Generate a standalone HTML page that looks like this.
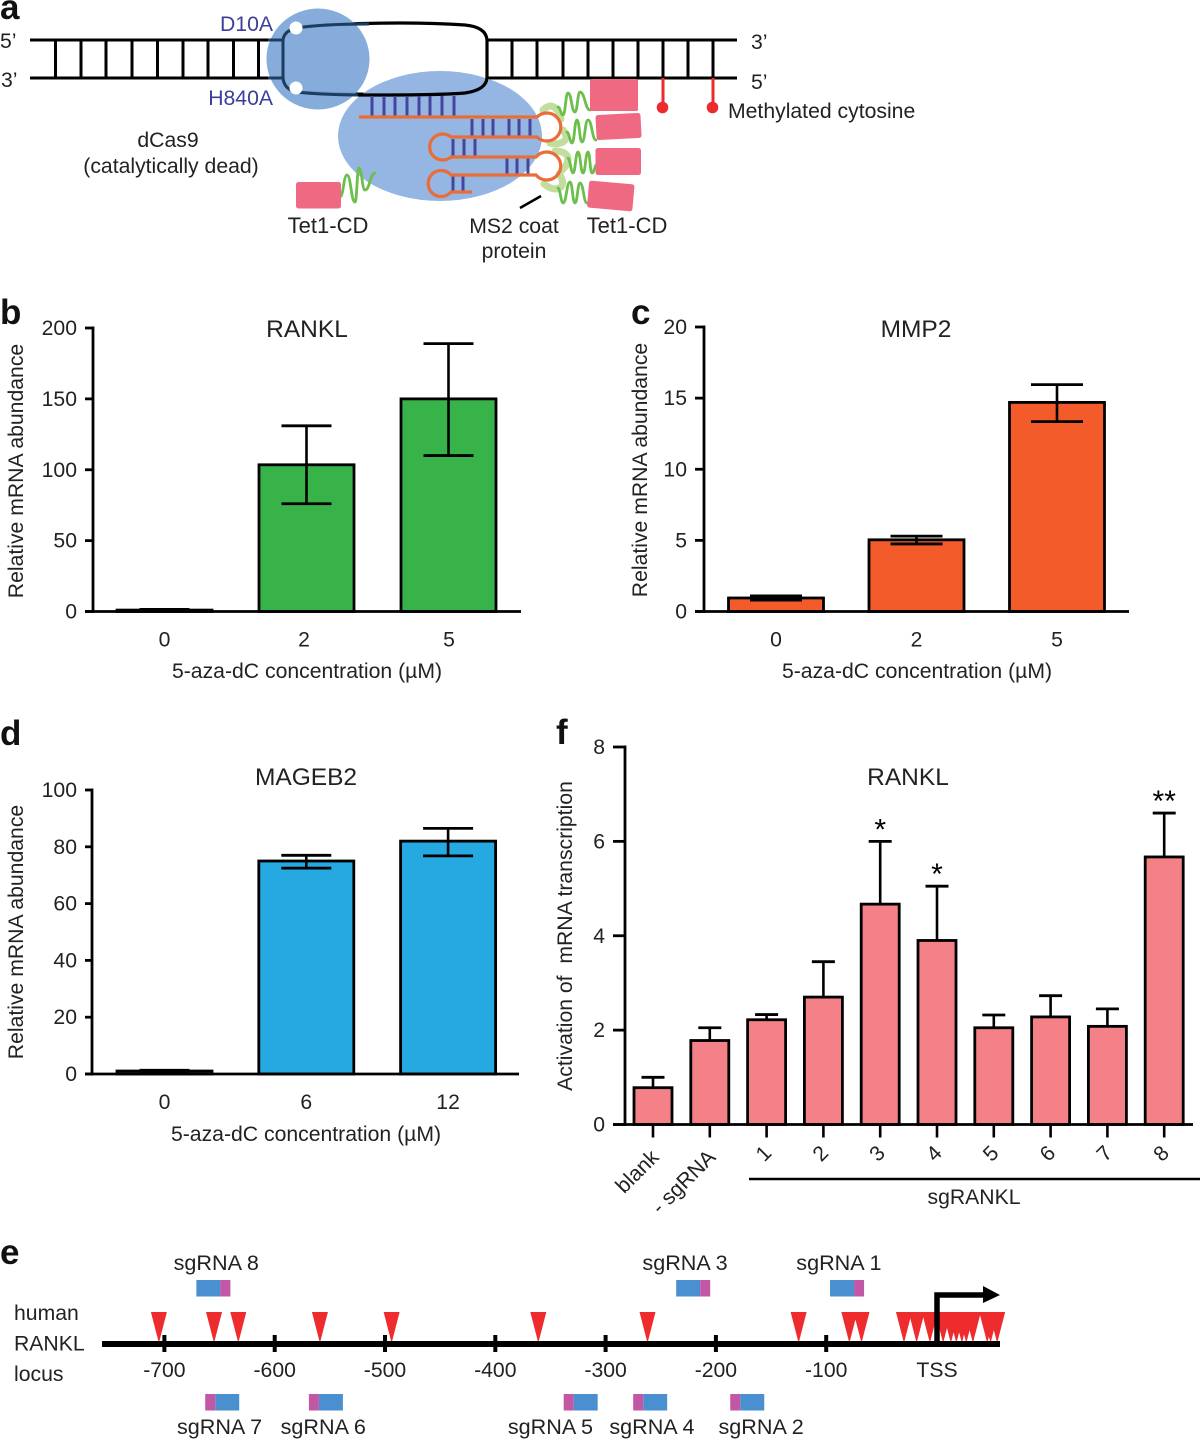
<!DOCTYPE html>
<html lang="en">
<head>
<meta charset="utf-8">
<title>dCas9 Tet1-CD demethylation figure</title>
<style>
html,body{margin:0;padding:0;background:#fff;}
svg{display:block;position:absolute;left:0;top:0;}
text{font-family:"Liberation Sans",sans-serif;font-size:21.2px;fill:#222;white-space:pre;}
.panel{font-weight:bold;font-size:35px;fill:#111;}
</style>
</head>
<body>
<svg id="figure" xmlns="http://www.w3.org/2000/svg" width="1200" height="1441" viewBox="0 0 1200 1441">
  <rect width="1200" height="1441" fill="#fff"/>

  <text class="panel" x="0" y="19">a</text>
  <text class="panel" x="0" y="324">b</text>
  <text class="panel" x="631" y="324">c</text>
  <text class="panel" x="0" y="745">d</text>
  <text class="panel" x="556" y="744">f</text>
  <text class="panel" x="0" y="1264">e</text>

  <g id="panel-a">
    <g stroke="#000" stroke-width="3" fill="none">
      <path d="M30 40H283M30 78H283"/>
      <path d="M55.500 40V78M81 40V78M106 40V78M132 40V78M157.500 40V78M183 40V78M208 40V78M233.500 40V78M258.500 40V78"/>
      <path d="M487 40H737M487 78H737"/>
      <path d="M512 40V78M537 40V78M563 40V78M588 40V78M613 40V78M638 40V78M663 40V78M688 40V78M713 40V78"/>
      <path d="M283 78V40Q284 31 296 28C350 22 420 22 465 25Q486 27 487 40V78Q486 90 465 93C420 95 350 95 296 92Q284 89 283 78" stroke-width="3.200"/>
    </g>
    <ellipse cx="318" cy="59" rx="51.500" ry="50.500" fill="#7ba5d8" fill-opacity=".92"/>
    <path d="M283 78V40Q284 31 296 28C315 25 340 24 369 24M283 78Q284 89 296 92C315 94 340 95 369 95" fill="none" stroke="#1d3d5e" stroke-width="3"/>
    <path d="M268 40H283M268 78H283" stroke="#1d3d5e" stroke-width="3"/>
    <ellipse cx="440" cy="136" rx="102" ry="65" fill="#95b6e2"/>
    <path d="M358 95C400 95 440 95 465 93Q486 90 487 78" fill="none" stroke="#000" stroke-width="3.200"/>
    <circle cx="296" cy="28" r="6.500" fill="#fff"/>
    <circle cx="296" cy="88" r="6.500" fill="#fff"/>
    <g stroke="#43469f" stroke-width="3" fill="none">
      <path d="M372 96V116M384 96V116M395 96V116M407 96V116M419 96V116M430 96V116M442 96V116M454 96V116"/>
      <path d="M472 119V136M483 119V136M493 119V136M509 119V136M519 119V136M530 119V136"/>
      <path d="M453 139V156M464 139V156M475 139V156"/>
      <path d="M507 157V174M517 157V174M528 157V174"/>
      <path d="M453 175V191M463 175V191"/>
    </g>
    <g fill="none" stroke="#c2de9f" stroke-width="7" stroke-linecap="round">
      <path d="M543 110Q551 102 557 110Q560 114 561 119"/>
      <path d="M563 130Q569 138 563 142Q557 145 550 143"/>
      <path d="M555 151Q566 151 568 158Q568 165 562 170"/>
      <path d="M559 174Q565 182 561 187Q554 192 544 184"/>
    </g>
    <path d="M359 117H537A14 14 0 1 1 537 137H451A13 13 0 1 0 451 157H536A14 14 0 1 1 536 175H451A13 13 0 1 0 451 192H472" fill="none" stroke="#ea6c37" stroke-width="3.200"/>
    <g fill="none" stroke="#6bbf4a" stroke-width="2.800" stroke-linecap="round">
      <path d="M340 197C343.500 197 343.500 175 347 175C351 175 351 202 355 202C357 202 357 168 359 168C362 168 362 190 365 190C370 190 370 173 375 173"/>
      <path d="M558 107C560 107 561 115 563 115C565.500 115 565.500 93 568 93C571.500 93 571.500 112 575 112C577.500 112 577.500 92 580 92C585 92 585 110 590 110"/>
      <path d="M567 132C569 132 570 143 572 143C574.500 143 574.500 120 577 120C579.500 120 579.500 142 582 142C585 142 585 120 588 120C592 120 592 140 596 140"/>
      <path d="M568 158C570 158 571 173 573 173C575.500 173 575.500 152 578 152C580.500 152 580.500 173 583 173C585.500 173 585.500 152 588 152C590 152 590 173 592 173C594 173 594 168 596 165"/>
      <path d="M558 188C560 188 561 203 563 203C566.500 203 566.500 182 570 182C572.500 182 572.500 203 575 203C577.500 203 577.500 183 580 183C583.500 183 583.500 203 587 203"/>
    </g>
    <g fill="#ef6983">
      <rect x="296" y="182" width="45" height="26.500" rx="2.500"/>
      <rect x="590" y="79" width="48" height="32" rx="1.500"/>
      <rect x="596" y="114" width="45" height="25" rx="2.500" transform="rotate(-3 618 126)"/>
      <rect x="595.500" y="148" width="45.500" height="27" rx="2.500"/>
      <rect x="588" y="182.500" width="45.500" height="27" rx="2.500" transform="rotate(5 611 196)"/>
    </g>
    <g fill="#ec2b2f" stroke="#ec2b2f">
      <path d="M663 78V105" stroke-width="3" fill="none"/>
      <circle cx="662.500" cy="107.500" r="5.800" stroke="none"/>
      <path d="M713 78V105" stroke-width="3" fill="none"/>
      <circle cx="712.500" cy="107.500" r="5.800" stroke="none"/>
    </g>
    <path d="M520 208L541 196" stroke="#000" stroke-width="2.500"/>
    <text x="0" y="48">5’</text>
    <text x="1" y="87">3’</text>
    <text x="751" y="49">3’</text>
    <text x="751" y="89">5’</text>
    <text x="273" y="31" text-anchor="end" style="fill:#3b3f99">D10A</text>
    <text x="273" y="105" text-anchor="end" style="fill:#3b3f99">H840A</text>
    <text x="168" y="147" text-anchor="middle">dCas9</text>
    <text x="171" y="173" text-anchor="middle">(catalytically dead)</text>
    <text x="328" y="233" text-anchor="middle" style="font-size:22px">Tet1-CD</text>
    <text x="627" y="233" text-anchor="middle" style="font-size:22px">Tet1-CD</text>
    <text x="514" y="233" text-anchor="middle">MS2 coat</text>
    <text x="514" y="258" text-anchor="middle">protein</text>
    <text x="728" y="118">Methylated cytosine</text>
  </g>

  <g id="chart-b"></g>
  <g id="chart-c"></g>
  <g id="chart-d"></g>
  <g id="chart-f"></g>
  <g id="panel-e"></g>
</svg>

<script>
// Panel b
const bCategories = ["0", "2", "5"];
const bValues = [1, 103.500, 150];
const bErrHigh = [1.500, 131, 189];
const bErrLow = [0.500, 76, 110];
const bTicks = [0, 50, 100, 150, 200];

// Panel c
const cCategories = ["0", "2", "5"];
const cValues = [0.950, 5.040, 14.700];
const cErrHigh = [1.100, 5.300, 15.950];
const cErrLow = [0.800, 4.750, 13.350];
const cTicks = [0, 5, 10, 15, 20];

// Panel d
const dCategories = ["0", "6", "12"];
const dValues = [1.050, 75, 82];
const dErrHigh = [1.300, 77, 86.500];
const dErrLow = [0.800, 72.500, 76.800];
const dTicks = [0, 20, 40, 60, 80, 100];

// Panel f
const fCategories = ["blank", "- sgRNA", "1", "2", "3", "4", "5", "6", "7", "8"];
const fValues = [0.780, 1.780, 2.220, 2.700, 4.670, 3.900, 2.050, 2.280, 2.080, 5.670];
const fErrHigh = [1.000, 2.050, 2.330, 3.450, 6.000, 5.050, 2.320, 2.730, 2.450, 6.600];
const fStars = ["", "", "", "", "*", "*", "", "", "", "**"];
const fTicks = [0, 2, 4, 6, 8];

// Panel e (positions in bp relative to the TSS)
const locusTicks = [-700, -600, -500, -400, -300, -200, -100];
const cpgSites = [-705, -655, -633, -559, -494, -361, -262, -125, -79, -68, -29.500, -18, -6, 6, 13, 18, 23, 27, 33, 46, 49, 55];
const guideNames = ["sgRNA 8", "sgRNA 3", "sgRNA 1", "sgRNA 7", "sgRNA 6", "sgRNA 5", "sgRNA 4", "sgRNA 2"];
const guideStarts = [-671, -236, -96.500, -663, -569, -338, -275, -187];
const guideLabelSites = [-653, -228, -88.500, -650, -556, -350, -258, -159];
const guideStrands = ["+", "+", "+", "-", "-", "-", "-", "-"];

const NS = "http://www.w3.org/2000/svg";
function mk(tag, parent, attrs, txt) {
  const n = document.createElementNS(NS, tag);
  for (const k in attrs) n.setAttribute(k, attrs[k]);
  if (txt !== undefined) n.textContent = txt;
  parent.appendChild(n);
  return n;
}
function tag(n, name, live) {
  
  
  return n;
}

function drawBars(g, o) {
  const y = v => o.y0 - v * (o.y0 - o.yTop) / o.yMax;
  const x = i => o.x0 + i * o.step;
  o.categories.forEach((c, i) => {
    const v = o.values[i];
    const rect = mk('rect', g, {x: x(i) - o.barW / 2, y: y(v), width: o.barW, height: Math.max(0, o.y0 - y(v)), fill: o.color, stroke: '#000', 'stroke-width': 2.800});
    tag(rect, 'bar-' + c);
    const top = y(o.errHigh[i]);
    const bot = o.errLow ? y(o.errLow[i]) : y(v);
    const stem = mk('line', g, {x1: x(i), x2: x(i), y1: top, y2: bot, stroke: '#000', 'stroke-width': 2.600});
    tag(stem, 'error-bar-' + c);
    const capT = mk('line', g, {x1: x(i) - o.capW / 2, x2: x(i) + o.capW / 2, y1: top, y2: top, stroke: '#000', 'stroke-width': 2.800});
    tag(capT, 'error-cap-high-' + c);
    if (o.errLow) {
      const capB = mk('line', g, {x1: x(i) - o.capW / 2, x2: x(i) + o.capW / 2, y1: bot, y2: bot, stroke: '#000', 'stroke-width': 2.800});
      tag(capB, 'error-cap-low-' + c);
    }
    if (o.stars && o.stars[i]) {
      const s = mk('text', g, {x: x(i), y: top - 2, 'text-anchor': 'middle', style: 'font-size:30px;fill:#000'}, o.stars[i]);
      tag(s, 'significance-' + c);
    }
    if (o.xTickLen) {
      const xt = mk('line', g, {x1: x(i), x2: x(i), y1: o.y0, y2: o.y0 + o.xTickLen, stroke: '#000', 'stroke-width': 2.600});
      tag(xt, 'x-tick-' + c);
    }
    if (o.rotate) {
      const long = c.length > 1;
      const lx = long ? x(i) + 7 : x(i) + 2;
      const ly = long ? o.y0 + 34 : o.y0 + 34;
      const t = mk('text', g, {x: lx, y: ly, 'text-anchor': long ? 'end' : 'middle', transform: 'rotate(-45 ' + lx + ' ' + ly + ')'}, c);
      tag(t, 'x-label-' + c);
    } else {
      const dx = o.labelNudge ? o.labelNudge[i] : 0;
      const t = mk('text', g, {x: x(i) + dx, y: o.y0 + 35, 'text-anchor': 'middle'}, c);
      tag(t, 'x-label-' + c);
    }
  });
  const yAxis = mk('line', g, {x1: o.axisX, x2: o.axisX, y1: o.yTop - 1.500, y2: o.y0 + 1.500, stroke: '#000', 'stroke-width': 2.800});
  tag(yAxis, 'y-axis');
  const xAxis = mk('line', g, {x1: o.xStart, x2: o.xEnd, y1: o.y0, y2: o.y0, stroke: '#000', 'stroke-width': 2.800});
  tag(xAxis, 'x-axis');
  o.ticks.forEach(t => {
    const tl = mk('line', g, {x1: o.xStart, x2: o.axisX, y1: y(t), y2: y(t), stroke: '#000', 'stroke-width': 2.800});
    tag(tl, 'y-tick-' + t);
    const lb = mk('text', g, {x: o.xStart - 8, y: y(t) + 7, 'text-anchor': 'end'}, String(t));
    tag(lb, 'y-label-' + t);
  });
  const title = mk('text', g, {x: o.titleX, y: o.titleY, 'text-anchor': 'middle', style: 'font-size:24.500px'}, o.title);
  tag(title, 'chart-title');
  const yt = mk('text', g, {x: 0, y: 0, 'text-anchor': 'middle', transform: 'translate(' + o.yTitleX + ' ' + o.yTitleY + ') rotate(-90)'}, o.yTitle);
  tag(yt, 'y-axis-title');
  if (o.xTitle) {
    const xt = mk('text', g, {x: o.xTitleX, y: o.xTitleY, 'text-anchor': 'middle'}, o.xTitle);
    tag(xt, 'x-axis-title');
  }
}

drawBars(document.getElementById('chart-b'), {
  categories: bCategories, values: bValues, errHigh: bErrHigh, errLow: bErrLow, ticks: bTicks,
  color: '#38b34a', x0: 164.500, step: 142, barW: 95, capW: 50, y0: 611.500, yTop: 328, yMax: 200,
  axisX: 93, xStart: 85, xEnd: 521, title: 'RANKL', titleX: 307, titleY: 337, labelNudge: [0, -2.500, 0.500],
  yTitle: 'Relative mRNA abundance', yTitleX: 23, yTitleY: 471,
  xTitle: '5-aza-dC concentration (µM)', xTitleX: 307, xTitleY: 678
});
drawBars(document.getElementById('chart-c'), {
  categories: cCategories, values: cValues, errHigh: cErrHigh, errLow: cErrLow, ticks: cTicks,
  color: '#f45b2a', x0: 776, step: 140.500, barW: 95, capW: 52, y0: 611.500, yTop: 327, yMax: 20,
  axisX: 704, xStart: 695, xEnd: 1129, title: 'MMP2', titleX: 916, titleY: 337,
  yTitle: 'Relative mRNA abundance', yTitleX: 647, yTitleY: 470,
  xTitle: '5-aza-dC concentration (µM)', xTitleX: 917, xTitleY: 678
});
drawBars(document.getElementById('chart-d'), {
  categories: dCategories, values: dValues, errHigh: dErrHigh, errLow: dErrLow, ticks: dTicks,
  color: '#26a9e1', x0: 164.500, step: 141.800, barW: 95, capW: 50, y0: 1074, yTop: 790, yMax: 100,
  axisX: 92, xStart: 85, xEnd: 519, title: 'MAGEB2', titleX: 306, titleY: 785,
  yTitle: 'Relative mRNA abundance', yTitleX: 23, yTitleY: 932,
  xTitle: '5-aza-dC concentration (µM)', xTitleX: 306, xTitleY: 1141
});
drawBars(document.getElementById('chart-f'), {
  categories: fCategories, values: fValues, errHigh: fErrHigh, ticks: fTicks, stars: fStars,
  color: '#f48088', x0: 653, step: 56.800, barW: 38, capW: 23, y0: 1124.500, yTop: 747, yMax: 8,
  axisX: 625, xStart: 613, xEnd: 1193, xTickLen: 13, rotate: true,
  title: 'RANKL', titleX: 908, titleY: 785,
  yTitle: 'Activation of  mRNA transcription', yTitleX: 572, yTitleY: 936
});
(function () {
  const g = document.getElementById('chart-f');
  const bar = mk('line', g, {x1: 749, x2: 1200, y1: 1179, y2: 1179, stroke: '#000', 'stroke-width': 2.500});
  tag(bar, 'sgrankl-bracket');
  const lb = mk('text', g, {x: 974, y: 1204, 'text-anchor': 'middle'}, 'sgRANKL');
  tag(lb, 'sgrankl-label');
})();

(function () {
  const g = document.getElementById('panel-e');
  const X = bp => 936.500 + bp * 1.103;
  ['human', 'RANKL', 'locus'].forEach((w, i) => {
    const t = mk('text', g, {x: 14, y: 1320 + i * 30.500}, w);
    tag(t, 'locus-label-' + w.toLowerCase());
  });
  cpgSites.forEach((bp, i) => {
    const cx = X(bp);
    const p = mk('polygon', g, {points: (cx - 8) + ',1312 ' + (cx + 8) + ',1312 ' + cx + ',1343', fill: '#ee2b2d'});
    tag(p, 'methylation-site-' + (i + 1));
  });
  const line = mk('line', g, {x1: 102, x2: 1000, y1: 1344, y2: 1344, stroke: '#000', 'stroke-width': 6});
  tag(line, 'locus-line');
  locusTicks.forEach(t => {
    const tk = mk('line', g, {x1: X(t), x2: X(t), y1: 1335, y2: 1352, stroke: '#000', 'stroke-width': 4});
    tag(tk, 'locus-tick-' + t);
    const lb = mk('text', g, {x: X(t), y: 1377, 'text-anchor': 'middle'}, String(t));
    tag(lb, 'locus-tick-label-' + t);
  });
  const tss = mk('path', g, {d: 'M937 1347V1295H986', fill: 'none', stroke: '#000', 'stroke-width': 5.500});
  tag(tss, 'tss-arrow-shaft');
  const head = mk('polygon', g, {points: '983,1286 1000,1295 983,1303', fill: '#000'});
  tag(head, 'tss-arrow-head');
  const tssLb = mk('text', g, {x: 937, y: 1377, 'text-anchor': 'middle'}, 'TSS');
  tag(tssLb, 'tss-label');
  guideNames.forEach((name, i) => {
    const up = guideStrands[i] === '+';
    const x0 = X(guideStarts[i]);
    const yb = up ? 1280 : 1394;
    const pamW = 10;
    const blueW = 24;
    const blue = mk('rect', g, {x: up ? x0 : x0 + pamW, y: yb, width: blueW, height: 16.500, fill: '#4a8fd0'});
    tag(blue, 'guide-body-' + (i + 1));
    const pam = mk('rect', g, {x: up ? x0 + blueW : x0, y: yb, width: pamW, height: 16.500, fill: '#c257a6'});
    tag(pam, 'guide-pam-' + (i + 1));
    const t = mk('text', g, {x: X(guideLabelSites[i]), y: up ? 1270 : 1434, 'text-anchor': 'middle', style: 'font-size:21.600px'}, name);
    tag(t, 'guide-label-' + (i + 1));
  });
})();
</script>
</body>
</html>
